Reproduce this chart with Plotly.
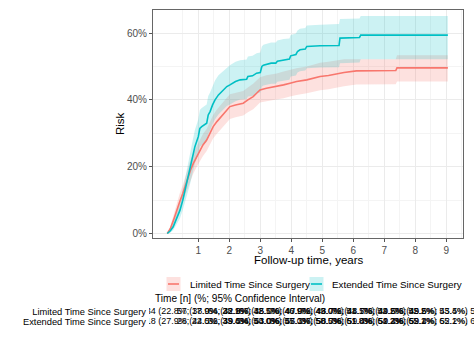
import plotly.graph_objects as go

# ---------------- data ----------------
groups = ["Limited Time Since Surgery", "Extended Time Since Surgery"]

lim_time = [0, 0.1, 0.2, 0.3, 0.4, 0.5, 0.57, 0.65, 0.75, 0.84, 0.95, 1.05, 1.15, 1.27, 1.38, 1.48,
            1.6, 1.75, 1.88, 2.02, 2.2, 2.45, 2.6, 2.77, 2.88, 2.99, 3.2, 3.53, 3.75, 3.96, 4.17,
            4.5, 4.7, 4.93, 5.2, 5.46, 5.7, 6.1, 7.37, 7.41, 9.05]
lim_risk = [0, 1.5, 4, 7, 9.5, 12, 14, 16.5, 19, 21, 23, 25, 26.5, 28, 30, 32, 33.5, 35, 36.5, 38,
            38.5, 39, 40, 41, 42, 43, 43.5, 44, 44.5, 45, 45.5, 46, 46.5, 47, 47.3, 47.8, 48.2,
            48.7, 48.8, 49.6, 49.6]
lim_lower = [0, 0.8, 2.5, 5, 7, 9.5, 11.5, 13.5, 16, 18, 20, 21.8, 23.2, 24.7, 26.6, 28.5, 29.9,
             31.4, 32.8, 34.3, 34.8, 35.3, 36.3, 37.2, 38.2, 39.2, 39.6, 40.1, 40.5, 41, 41.5, 42,
             42.4, 42.9, 43.2, 43.7, 44.1, 44.6, 44.7, 45.5, 45.5]
lim_upper = [0, 2.2, 5.5, 9, 12, 14.5, 16.5, 19.5, 22, 24, 26, 28.2, 29.8, 31.3, 33.4, 35.5, 37.1,
             38.6, 40.2, 41.7, 42.2, 42.7, 43.7, 44.8, 45.8, 46.8, 47.4, 47.9, 48.5, 49, 49.5, 50,
             50.6, 51.1, 51.4, 51.9, 52.2, 52.2, 52.2, 53.4, 53.4]

ext_time = [0, 0.1, 0.19, 0.3, 0.41, 0.5, 0.57, 0.65, 0.73, 0.81, 0.89, 1.0, 1.05, 1.11, 1.27, 1.32,
            1.38, 1.46, 1.54, 1.65, 1.81, 1.92, 2.02, 2.2, 2.35, 2.56, 2.6, 2.75, 2.88, 3.0, 3.05,
            3.1, 3.35, 3.5, 3.55, 3.75, 3.94, 3.98, 4.15, 4.2, 4.28, 4.45, 4.5, 4.93, 5.54, 5.57,
            6.2, 6.24, 9.05]
ext_risk = [0, 0.8, 2, 4.5, 7, 10, 13, 16, 19, 22.5, 26, 29, 31.5, 32, 33, 35.5, 36.5, 38.5, 40,
            41.5, 43, 44, 44.5, 45.5, 46, 46.2, 47, 47.2, 48, 48.2, 50, 50.4, 51, 51, 51.6, 52,
            52.2, 53.2, 53.6, 54.5, 55, 55.2, 56, 56.2, 56.3, 58.5, 58.7, 59.4, 59.4]
ext_lower = [0, 0.2, 1, 2.6, 4.6, 7, 9.6, 12, 14.6, 17.6, 21, 23.8, 26, 26.4, 27.4, 29.8, 30.8,
             32.8, 34.2, 35.6, 37.2, 38.2, 38.6, 39.6, 40.1, 40.3, 41, 41.2, 42, 42.2, 43.9, 44.3,
             44.8, 44.8, 45.4, 45.8, 46, 47, 47.3, 48.2, 48.6, 48.8, 49.5, 49.7, 49.8, 51, 51.2,
             52.2, 52.2]
ext_upper = [0, 1.5, 3.2, 6.5, 9.5, 13, 16.5, 20, 23.5, 27.5, 31, 34.2, 37, 37.6, 38.6, 41.2, 42.2,
             44.2, 45.8, 47.4, 48.8, 49.8, 50.4, 51.4, 51.9, 52.1, 53, 53.2, 54, 54.2, 56, 56.5,
             57.2, 57.2, 57.8, 58.2, 58.4, 59.4, 59.9, 60.8, 61.3, 61.5, 62.3, 62.5, 62.7, 64.2,
             64.4, 65.1, 65.1]

# risk table (times 1..9)
table_times = [1, 2, 3, 4, 5, 6, 7, 8, 9]
lim_n = [34, 57, 64, 67, 70, 72, 72, 73, 73]
lim_tab_risk = [22.8, 38.0, 42.8, 45.0, 47.0, 48.7, 48.7, 49.6, 49.6]
lim_tab_lo = [17.9, 32.9, 38.1, 40.9, 43.0, 44.5, 44.5, 45.5, 45.5]
lim_tab_hi = [28.1, 42.5, 46.9, 49.0, 51.1, 52.2, 52.2, 53.4, 53.4]
ext_n = [18, 28, 32, 34, 36, 37, 38, 38, 38]
ext_tab_risk = [27.9, 44.5, 49.5, 53.0, 56.3, 58.7, 59.4, 59.4, 59.4]
ext_tab_lo = [22.0, 39.0, 44.0, 47.1, 50.0, 51.0, 52.2, 52.2, 52.2]
ext_tab_hi = [33.4, 50.0, 55.0, 58.5, 61.8, 64.2, 65.1, 65.1, 65.1]

x_ticks = [1, 2, 3, 4, 5, 6, 7, 8, 9]
y_ticks = [0, 20, 40, 60]
y_tick_labels = ["0%", "20%", "40%", "60%"]

# ---------------- style ----------------
RED = "#F8766D"
TEAL = "#00BFC4"
RED_FILL = "rgba(248,118,109,0.22)"
TEAL_FILL = "rgba(0,191,196,0.20)"
FONT = "Liberation Sans, Arial, sans-serif"

W, H = 474, 338
ML, MR, MT, MB = 149, 0, 10, 0
PW, PH = W - ML - MR, H - MT - MB


def px(xp):
    return (xp - ML) / PW


def py(yp):
    return (H - MB - yp) / PH


fig = go.Figure()

# confidence bands
for t, lo, hi, fc in [(lim_time, lim_lower, lim_upper, RED_FILL),
                      (ext_time, ext_lower, ext_upper, TEAL_FILL)]:
    fig.add_trace(go.Scatter(x=t, y=lo, mode="lines", line=dict(width=0),
                             hoverinfo="skip", showlegend=False))
    fig.add_trace(go.Scatter(x=t, y=hi, mode="lines", line=dict(width=0),
                             fill="tonexty", fillcolor=fc, hoverinfo="skip", showlegend=False))

# risk lines
for t, r, c, name in [(lim_time, lim_risk, RED, groups[0]), (ext_time, ext_risk, TEAL, groups[1])]:
    fig.add_trace(go.Scatter(x=t, y=r, mode="lines", name=name,
                             line=dict(color=c, width=1.6), showlegend=False))


# risk table text
def fmt(n, r, lo, hi):
    return f"{n} ({r:.1f}%; {lo:.1f}%, {hi:.1f}%)"


lim_txt = [fmt(*v) for v in zip(lim_n, lim_tab_risk, lim_tab_lo, lim_tab_hi)]
ext_txt = [fmt(*v) for v in zip(ext_n, ext_tab_risk, ext_tab_lo, ext_tab_hi)]
for txt, g in [(lim_txt, groups[0]), (ext_txt, groups[1])]:
    fig.add_trace(go.Scatter(x=table_times, y=[g] * len(table_times), text=txt,
                             mode="text", textposition="middle center", cliponaxis=True,
                             textfont=dict(family=FONT, size=9.0, color="black"),
                             xaxis="x2", yaxis="y2", showlegend=False, hoverinfo="skip"))

# main axis pixel geometry
x0_px, x1_px = 153, 463
y_top_px, y_bot_px = 10, 238
# data->px: x_px = 167.3 + 31.0*t ; y_px = 233.5 - 3.34*pct
xr = [(x0_px - 167.3) / 31.0, (x1_px - 167.3) / 31.0]
yr = [(233.5 - y_bot_px) / 3.34, (233.5 - y_top_px) / 3.34]

grid_major = "#EBEBEB"
grid_minor = "#F4F4F4"

fig.update_layout(
    width=W, height=H,
    margin=dict(l=ML, r=MR, t=MT, b=MB),
    paper_bgcolor="white", plot_bgcolor="white",
    font=dict(family=FONT, color="black"),
    showlegend=False,
    xaxis=dict(domain=[px(x0_px), px(x1_px)], range=xr, tickmode="array", tickvals=x_ticks,
               ticks="outside", ticklen=3, tickcolor="#555", tickwidth=1,
               tickfont=dict(size=10, color="#4D4D4D"),
               showgrid=True, gridcolor=grid_major, gridwidth=1, zeroline=False,
               showline=True, linecolor="#666", linewidth=1, mirror=True,
               minor=dict(tickvals=[0.5, 1.5, 2.5, 3.5, 4.5, 5.5, 6.5, 7.5, 8.5, 9.5],
                          showgrid=True, gridcolor=grid_minor, gridwidth=0.6, ticklen=0),
               anchor="y"),
    yaxis=dict(domain=[py(y_bot_px), py(y_top_px)], range=yr, tickmode="array",
               tickvals=y_ticks, ticktext=y_tick_labels,
               ticks="outside", ticklen=3, tickcolor="#555", tickwidth=1,
               tickfont=dict(size=10, color="#4D4D4D"),
               showgrid=True, gridcolor=grid_major, gridwidth=1, zeroline=False,
               showline=True, linecolor="#666", linewidth=1, mirror=True,
               minor=dict(tickvals=[10, 30, 50], showgrid=True, gridcolor=grid_minor,
                          gridwidth=0.6, ticklen=0),
               anchor="x"),
    xaxis2=dict(domain=[0, 1], range=[(ML - 167.3) / 31.0, (W - 167.3) / 31.0],
                visible=False, anchor="y2"),
    yaxis2=dict(domain=[py(328), py(305)], type="category",
                categoryorder="array", categoryarray=[groups[1], groups[0]],
                tickmode="array", tickvals=[groups[1], groups[0]],
                range=[-0.63, 1.67], showgrid=False, zeroline=False, showline=False,
                ticks="", ticklabelstandoff=2,
                tickfont=dict(size=9.3, color="black"), anchor="x2"),
)

ann = []
ann.append(dict(text="Follow-up time, years", x=px(308.5), y=py(260), xref="paper", yref="paper",
                showarrow=False, font=dict(size=11.5, color="black"), xanchor="center", yanchor="middle"))
ann.append(dict(text="Risk", x=px(120), y=py(124), xref="paper", yref="paper", textangle=-90,
                showarrow=False, font=dict(size=11.5, color="black"), xanchor="center", yanchor="middle"))
ann.append(dict(text="Time [n] (%; 95% Confidence Interval)", x=px(153), y=py(298),
                xref="paper", yref="paper", showarrow=False, font=dict(size=10.1, color="black"),
                xanchor="left", yanchor="middle"))

# legend keys
shapes = []
for kx, tx, col, fc, name in [(166.5, 188, RED, RED_FILL, groups[0]),
                              (309.5, 330, TEAL, TEAL_FILL, groups[1])]:
    shapes.append(dict(type="rect", xref="paper", yref="paper", x0=px(kx), x1=px(kx + 14),
                       y0=py(291), y1=py(277), fillcolor=fc, line=dict(width=0)))
    shapes.append(dict(type="line", xref="paper", yref="paper", x0=px(kx + 1.5), x1=px(kx + 12.5),
                       y0=py(284), y1=py(284), line=dict(color=col, width=1.6)))
    ann.append(dict(text=name, x=px(tx), y=py(284), xref="paper", yref="paper", showarrow=False,
                    font=dict(size=9.8, color="black"), xanchor="left", yanchor="middle"))

fig.update_layout(annotations=ann, shapes=shapes)

fig.write_html("out.html")
